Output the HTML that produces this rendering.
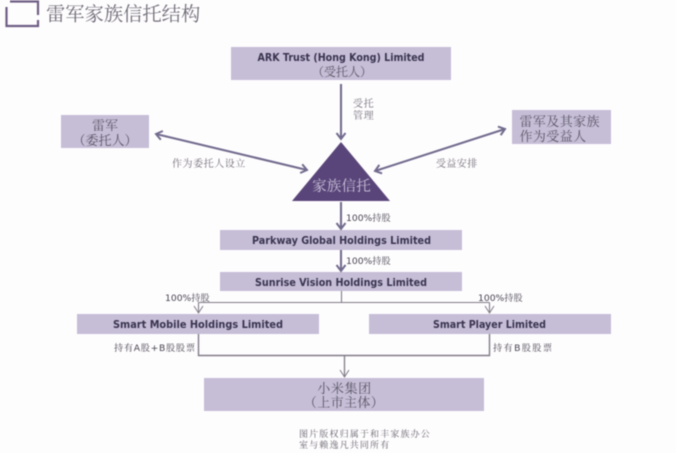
<!DOCTYPE html>
<html lang="zh">
<head>
<meta charset="utf-8">
<style>
html,body{margin:0;padding:0;background:#fefdfe;width:676px;height:453px;overflow:hidden}
svg{display:block;filter:blur(0.4px)}
text{font-family:"Liberation Sans","Noto Serif CJK SC",serif}
.en{font-family:"DejaVu Sans","Liberation Sans",sans-serif;font-weight:bold;font-size:10.4px;fill:#3a3450}
.cn{fill:#5a5564}
.sm{font-size:10px;fill:#716d77}
.pct{font-family:"DejaVu Sans","Noto Serif CJK SC",serif;font-size:9.2px;fill:#47434f}
</style>
</head>
<body>
<svg width="676" height="453" viewBox="0 0 676 453" xmlns="http://www.w3.org/2000/svg">
<defs>
<marker id="a" markerWidth="10" markerHeight="12" refX="7.5" refY="6" orient="auto-start-reverse" markerUnits="userSpaceOnUse">
<path d="M1.5 1.5L7.5 6L1.5 10.5" fill="none" stroke="#726b8e" stroke-width="2"/>
</marker>
<marker id="b" markerWidth="10" markerHeight="12" refX="8" refY="6" orient="auto" markerUnits="userSpaceOnUse">
<path d="M1 1.5L8 6L1 10.5" fill="none" stroke="#807b87" stroke-width="1"/>
</marker>
</defs>

<!-- title icon -->
<path d="M10 1.5H38V15M38 20V26H6.5V7" fill="none" stroke="#6e5d84" stroke-width="2.2"/>
<text x="46" y="20.5" font-size="19.3" fill="#6f6b76">雷军家族信托结构</text>

<!-- boxes -->
<g fill="#c6bed7">
<rect x="231" y="47" width="220" height="33"/>
<rect x="61" y="115" width="88" height="33"/>
<rect x="512" y="110" width="99" height="34"/>
<rect x="220" y="230" width="242" height="20"/>
<rect x="220" y="272" width="242" height="19"/>
<rect x="77" y="314" width="242" height="20"/>
<rect x="369" y="314" width="242" height="20"/>
<rect x="204" y="378" width="280" height="33"/>
</g>

<!-- triangle -->
<polygon points="341,142 390,201 292,201" fill="#594579"/>
<text x="341.5" y="191" text-anchor="middle" font-size="14.5" letter-spacing="0.2" fill="#cbc3da">家族信托</text>

<!-- thick arrows -->
<g stroke="#726b8e" stroke-width="2.1" fill="none">
<line x1="341" y1="84" x2="341" y2="139" marker-end="url(#a)"/>
<line x1="156" y1="134" x2="307" y2="170" marker-start="url(#a)" marker-end="url(#a)"/>
<line x1="375" y1="171" x2="505" y2="129" marker-start="url(#a)" marker-end="url(#a)"/>
<line x1="341" y1="202" x2="341" y2="229" marker-end="url(#a)"/>
<line x1="341" y1="250" x2="341" y2="271" marker-end="url(#a)"/>
</g>

<!-- thin connectors -->
<g stroke="#807b87" stroke-width="1.1" fill="none">
<line x1="341.5" y1="291" x2="341.5" y2="302.5"/>
<line x1="198.5" y1="302.5" x2="489.5" y2="302.5"/>
<line x1="198.5" y1="302.5" x2="198.5" y2="313" marker-end="url(#b)"/>
<line x1="489.5" y1="302.5" x2="489.5" y2="313" marker-end="url(#b)"/>
<polyline points="198.5,334 198.5,355.5 489.5,355.5 489.5,334" stroke-width="1.4"/>
<line x1="344.5" y1="355.5" x2="344.5" y2="377" marker-end="url(#b)" stroke-width="1.3"/>
</g>

<!-- box labels -->
<text x="341" y="61" text-anchor="middle" class="en" textLength="167" lengthAdjust="spacingAndGlyphs">ARK Trust (Hong Kong) Limited</text>
<text x="342" y="76" text-anchor="middle" font-size="12" class="cn">（受托人）</text>
<text x="105" y="130" text-anchor="middle" font-size="13" class="cn">雷军</text>
<text x="105" y="145" text-anchor="middle" font-size="13" class="cn">（委托人）</text>
<text x="519.5" y="126" font-size="13" letter-spacing="0.4" class="cn">雷军及其家族</text>
<text x="519.5" y="141" font-size="13" letter-spacing="0.4" class="cn">作为受益人</text>
<text x="341.5" y="244" text-anchor="middle" class="en" textLength="179" lengthAdjust="spacingAndGlyphs">Parkway Global Holdings Limited</text>
<text x="341" y="286" text-anchor="middle" class="en" textLength="172" lengthAdjust="spacingAndGlyphs">Sunrise Vision Holdings Limited</text>
<text x="198" y="328" text-anchor="middle" class="en" textLength="170" lengthAdjust="spacingAndGlyphs">Smart Mobile Holdings Limited</text>
<text x="489.5" y="328" text-anchor="middle" class="en" textLength="113" lengthAdjust="spacingAndGlyphs">Smart Player Limited</text>
<text x="344.5" y="393" text-anchor="middle" font-size="13" letter-spacing="0.6" class="cn">小米集团</text>
<text x="344" y="407" text-anchor="middle" font-size="13" letter-spacing="0.4" class="cn">（上市主体）</text>

<!-- connector labels -->
<text x="353" y="107" class="sm" font-size="10" letter-spacing="0.6">受托</text>
<text x="353" y="119" class="sm" letter-spacing="0.6">管理</text>
<text x="172" y="167" class="sm" letter-spacing="0.55">作为委托人设立</text>
<text x="436" y="167" class="sm" letter-spacing="0.4">受益安排</text>
<text x="346" y="221" class="pct">100%持股</text>
<text x="346" y="264" class="pct">100%持股</text>
<text x="165" y="301" class="pct">100%持股</text>
<text x="478" y="301" class="pct">100%持股</text>
<text x="114" y="351" class="pct" textLength="81">持有A股+B股股票</text>
<text x="493" y="351" class="pct" textLength="59">持有B股股票</text>

<!-- caption -->
<text x="299" y="437" font-size="9" letter-spacing="1.15" fill="#66626c">图片版权归属于和丰家族办公</text>
<text x="299" y="448" font-size="9" letter-spacing="1.15" fill="#66626c">室与赖逸凡共同所有</text>
</svg>
</body>
</html>
